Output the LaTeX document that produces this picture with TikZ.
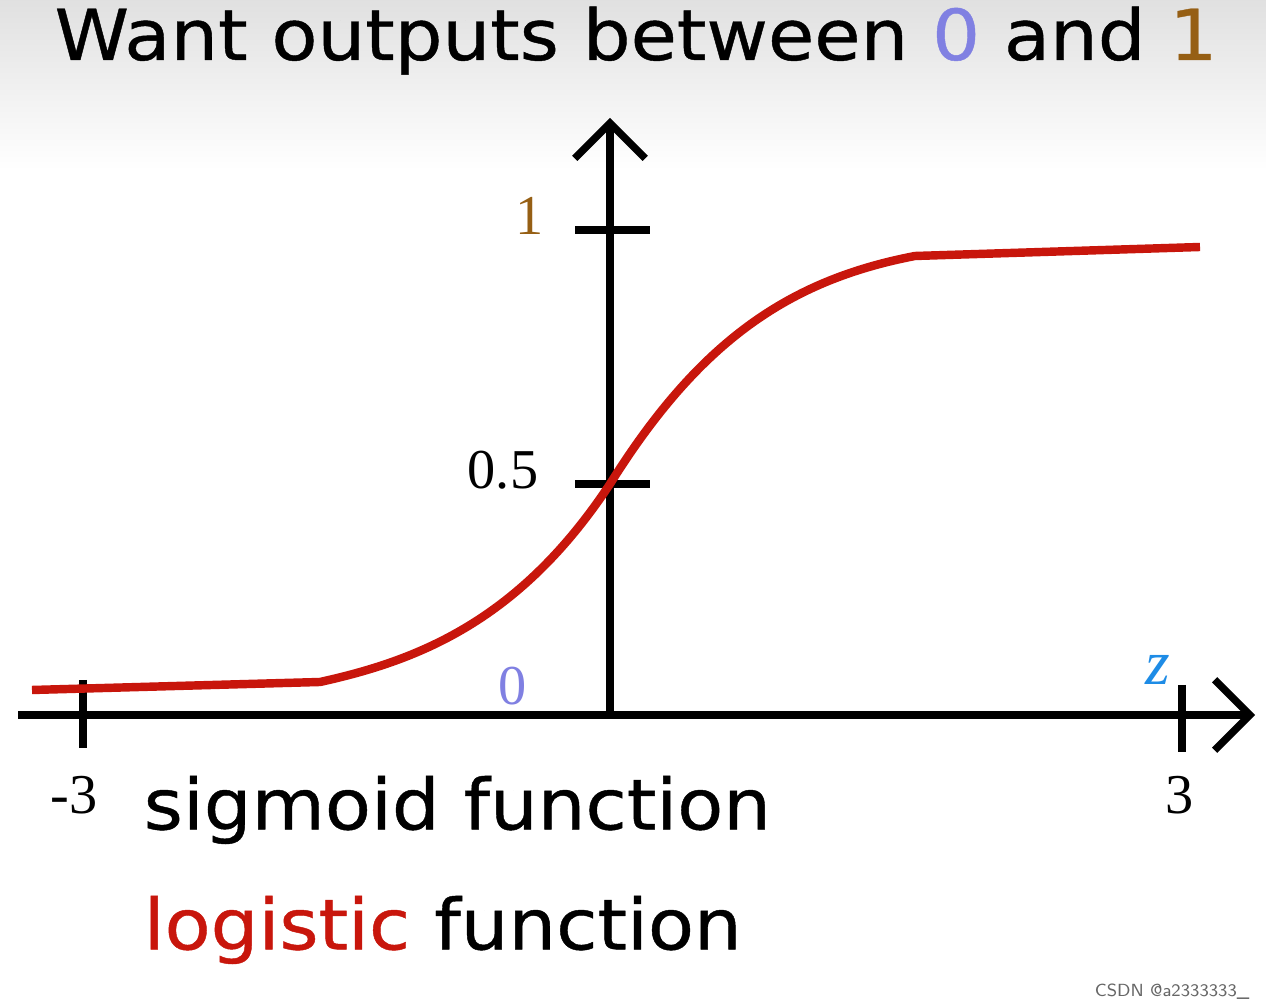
\documentclass[tikz,border=0pt]{standalone}
\usepackage{fontspec}
\setmainfont{Liberation Serif}
\newfontfamily\vsans[FakeStretch=1.07,FakeBold=0.6]{DejaVu Sans}
\usetikzlibrary{arrows.meta}
\definecolor{curvered}{RGB}{200,22,12}
\definecolor{zeroblue}{RGB}{128,128,226}
\definecolor{onebrown}{RGB}{150,95,20}
\definecolor{zblue}{RGB}{30,140,230}
\tikzset{
  axis/.style={line width=2.1pt,-{Straight Barb[length=10pt,width=20pt,line width=2.1pt]}},
  tick/.style={line width=2.1pt},
  num/.style={font=\fontsize{16}{18}\selectfont,inner sep=0pt},
  big/.style={font=\vsans\fontsize{20}{22}\selectfont,inner sep=0pt}
}
\begin{document}
\begin{tikzpicture}[x=0.01cm,y=-0.01cm]
\useasboundingbox (0,0) rectangle (1266,1007);
\shade[top color=black!12,bottom color=white] (0,0) rectangle (1266,170);
\fill[white] (0,170) rectangle (1266,1007);
\node[big,anchor=base] (title) at (636,60) {Want outputs between \textcolor{zeroblue}{0} and \textcolor{onebrown}{1}};
\coordinate (o) at (610,715);
\coordinate (xl) at (18,715);
\coordinate (xr) at (1255,715);
\coordinate (yt) at (610,118);
\draw[axis] (xl) -- (xr);
\draw[axis] (o) -- (yt);
\draw[tick] (575,230) -- (650,230);
\draw[tick] (575,484) -- (650,484);
\draw[tick] (83,680) -- (83,748);
\draw[tick] (1182,685) -- (1182,752);
\draw[curvered,line width=2.4pt,line join=round] (32,690) -- (320,682)
  .. controls (420,660) and (520,620) .. (610,484)
  .. controls (700,340) and (790,280) .. (915,256) -- (1200,247);
\node[num,text=onebrown] (n1) at (530,216) {1};
\node[num] (n05) at (503,470) {0.5};
\node[num,text=zeroblue] (n0) at (513,686) {0};
\node[num,text=zblue,font=\fontsize{18}{20}\selectfont\itshape] (z) at (1158,670) {z};
\node[num] (m3) at (74,795) {-3};
\node[num] (p3) at (1180,795) {3};
\node[big,anchor=west] (sig) at (143,810) {sigmoid function};
\node[big,anchor=west] (log) at (143,930) {\textcolor{curvered}{logistic} function};
\node[font=\sffamily\fontsize{5}{6}\selectfont,text=black!60,anchor=east,inner sep=0pt] (wm) at (1250,992) {CSDN @a2333333\_};
\end{tikzpicture}
\end{document}
